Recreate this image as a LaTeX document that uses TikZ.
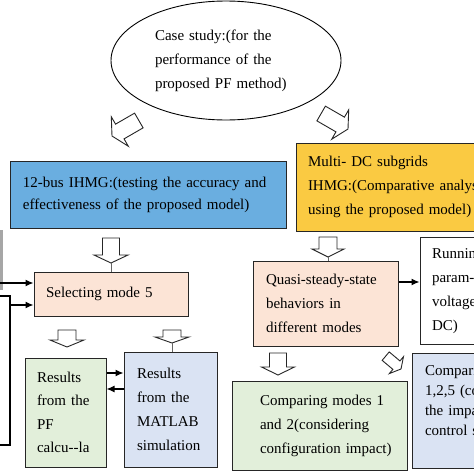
\documentclass[tikz,border=0pt]{standalone}
\usepackage{fontspec}
\setmainfont{Liberation Serif}
\usetikzlibrary{shapes.geometric,arrows.meta}
\definecolor{boxblue}{RGB}{106,174,224}
\definecolor{boxyellow}{RGB}{250,202,66}
\definecolor{peach}{RGB}{252,228,214}
\definecolor{greenL}{RGB}{226,239,218}
\definecolor{blueL}{RGB}{218,227,243}
\tikzset{
  box/.style={draw=black!85, line width=1pt, inner ysep=0pt, align=left,
    font=\fontsize{15}{24}\selectfont},
  conn/.style={line width=1.2pt, -{Latex[length=8pt,width=7pt]}},
  plain/.style={line width=1.2pt},
  guide/.style={line width=0.6pt, black!60},
  harrow/.style={draw=black!85, fill=white, line width=0.9pt, line join=miter},
  pics/barrow/.style n args={4}{code={
    \draw[harrow] (-#1,-#3) -- (#1,-#3) -- (#1,-#4) -- (#2,-#4) -- (0,0)
      -- (-#2,-#4) -- (-#1,-#4) -- cycle;}},
}
\begin{document}
\begin{tikzpicture}[x=1pt,y=-1pt]
\useasboundingbox (0,0) rectangle (474,474);
\clip (0,0) rectangle (474,474);
\fill[white] (0,0) rectangle (474,474);

% ellipse
\node[draw, ellipse, line width=0.9pt, minimum width=230pt, minimum height=119pt,
  inner sep=0pt, align=left, text width=142pt, font=\fontsize{15}{24}\selectfont]
  (case) at (226,60.5) {Case study:(for the\\performance of the\\proposed PF method)};

% boxes (inner xsep = left text margin, text width = W - 2 margin)
\node[box, fill=boxblue, minimum width=276pt, minimum height=67pt,
  inner xsep=13pt, text width=250pt, font=\fontsize{15}{22}\selectfont] (bus) at (148,194.5)
  {\makebox[252pt][s]{12-bus IHMG:(testing the accuracy and}\\effectiveness of the proposed model)};

\node[box, fill=boxyellow, minimum width=240pt, minimum height=88pt,
  inner xsep=12pt, text width=216pt]
  (multi) at (416,187) {Multi- DC subgrids\\IHMG:(Comparative analysis\\using the proposed model)};

\node[box, fill=peach, minimum width=154pt, minimum height=44pt,
  inner xsep=12pt, text width=130pt]
  (sel) at (111,294) {Selecting mode 5};

\node[box, fill=peach, minimum width=145pt, minimum height=85pt,
  inner xsep=13pt, text width=119pt]
  (quasi) at (325.5,303.5) {Quasi-steady-state\\behaviors in\\different modes};

\node[box, fill=white, minimum width=160pt, minimum height=107pt,
  inner xsep=12pt, text width=136pt]
  (run) at (500,290.5) {Running under\\param-eters (droop,\\voltage of the\\DC)};

\node[box, fill=greenL, minimum width=81pt, minimum height=109pt,
  inner xsep=12pt, text width=57pt, font=\fontsize{15}{23.3}\selectfont]
  (pf) at (65.5,412.5) {Results\\from the\\PF\\calcu-{}-la};

\node[box, fill=blueL, minimum width=93pt, minimum height=115pt,
  inner xsep=13pt, text width=67pt]
  (mat) at (170.5,409.5) {Results\\from the\\MATLAB\\simulation};

\node[box, fill=greenL, minimum width=175pt, minimum height=89pt,
  inner xsep=28pt, text width=119pt]
  (cmp) at (319.5,425.5) {\mbox{Comparing modes 1}\\\mbox{and 2(considering}\\\mbox{configuration impact)}};

\node[box, fill=blueL, minimum width=160pt, minimum height=115pt,
  inner xsep=13pt, text width=134pt, font=\fontsize{15}{20}\selectfont]
  (cmpb) at (492,410.5) {Comparing modes\\1,2,5 (considering\\the impact of\\control strategy)\\\mbox{}};

% hollow block arrows
\pic[rotate=-60] at (112,136) {barrow={8.5}{17}{31}{9}};
\pic[rotate=60] at (348,129) {barrow={8.5}{17}{31}{9}};
\pic at (111,263) {barrow={8.5}{17}{25}{8}};
\pic at (328,257) {barrow={9}{16}{20}{8}};
\pic at (67,347) {barrow={9}{17}{17}{7}};
\pic at (172,343) {barrow={9}{17}{13}{6}};
\pic at (278,375) {barrow={8.5}{16.5}{22}{8}};
\pic[rotate=50] at (401,369) {barrow={5.5}{11}{20}{6}};

\coordinate (t3) at (111,263);
\coordinate (t4) at (328,257);
\coordinate (t6) at (172,343);
\draw[guide] (t3) -- (t3 |- sel.north);
\draw[guide] (t4) -- (t4 |- quasi.north);
\draw[guide] (t6) -- (t6 |- mat.north);

% left side
\draw[black!35, line width=3pt] (1.5,230) -- (1.5,290);
\coordinate (in1) at (0,283);
\coordinate (b1) at (0,296);
\coordinate (bb) at (10,445);
\coordinate (b2) at (0,445);
\coordinate (bk) at (10,305);
\draw[conn] (in1) -- (in1 -| sel.west);
\draw[plain] (b1) -| (bb) -- (b2);
\draw[conn] (bk) -- (bk -| sel.west);

% connectors
\draw[conn] (pf.east |- 0,373) -- (mat.west |- 0,373);
\draw[conn] (mat.west |- 0,389) -- (pf.east |- 0,389);
\draw[conn] (quasi.east |- 0,282) -- (run.west |- 0,282);
\end{tikzpicture}
\end{document}
